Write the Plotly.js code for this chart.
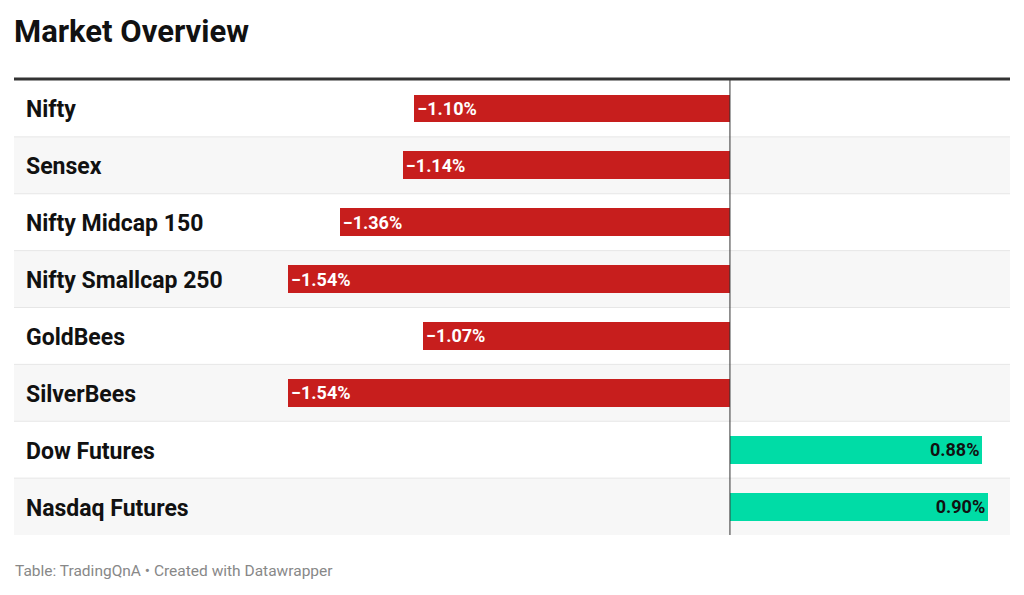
<!DOCTYPE html>
<html>
<head>
<meta charset="utf-8">
<script src="https://cdn.plot.ly/plotly-3.0.1.min.js"></script>
<style>html,body{margin:0;padding:0;background:#fff;}#chart{width:1024px;height:595px;}</style>
</head>
<body>
<div id="chart"></div>
<script>
const categories = ["Nifty","Sensex","Nifty Midcap 150","Nifty Smallcap 250","GoldBees","SilverBees","Dow Futures","Nasdaq Futures"];
const values = [-1.10,-1.14,-1.36,-1.54,-1.07,-1.54,0.88,0.90];
const valueLabels = ["−1.10%","−1.14%","−1.36%","−1.54%","−1.07%","−1.54%","0.88%","0.90%"];

const FONT = "Roboto, 'Noto Sans', sans-serif";
const RED = "#c71e1d", GREEN = "#00dca6";
const idx = categories.map((c,i)=>i);

const shapes = [];
idx.forEach(i=>{
  if (i % 2 === 1) {
    shapes.push({type:"rect", xref:"paper", yref:"y", x0:0, x1:1, y0:i-0.5, y1:i+0.5,
      fillcolor:"#f7f7f7", line:{width:0}, layer:"below"});
  }
  if (i > 0) {
    shapes.push({type:"line", xref:"paper", yref:"y", x0:0, x1:1, y0:i-0.5, y1:i-0.5,
      line:{color:"#e6e6e6", width:1}, layer:"below"});
  }
});
shapes.push({type:"line", xref:"paper", yref:"paper", x0:0, x1:1, y0:1.002, y1:1.002,
  line:{color:"#333333", width:3}});
shapes.push({type:"line", xref:"x", yref:"paper", x0:0, x1:0, y0:0, y1:1,
  line:{color:"#333333", width:1}, layer:"above"});

const annotations = categories.map((c,i)=>({
  xref:"paper", yref:"y", x:0.010, y:i, yshift:-1.5, text:c, showarrow:false, xanchor:"left", yanchor:"middle",
  font:{family:FONT, size:23, color:"#111111", weight:700}
}));
annotations.push({
  xref:"paper", yref:"paper", x:-0.001, y:-0.08, yanchor:"middle", xanchor:"left", showarrow:false,
  text:"Table: TradingQnA • Created with Datawrapper",
  font:{family:FONT, size:15.5, color:"#888888"}
});

const trace = {
  type:"bar", orientation:"h", y:idx, x:values,
  width:0.49,
  marker:{color:values.map(v=>v<0?RED:GREEN), line:{width:0}},
  text:valueLabels, textposition:"inside", insidetextanchor:"end",
  constraintext:"none",
  textfont:{family:FONT, size:18, weight:700, color:values.map(v=>v<0?"#ffffff":"#111111")},
  hoverinfo:"skip", cliponaxis:false
};

const layout = {
  width:1024, height:595,
  margin:{l:14, r:14, t:80, b:60},
  paper_bgcolor:"#ffffff", plot_bgcolor:"rgba(0,0,0,0)",
  showlegend:false,
  title:{text:"Market Overview", x:14/1024, xanchor:"left", xref:"container",
    y:1-31/595, yanchor:"middle", yref:"container",
    font:{family:FONT, size:31, weight:700, color:"#111111"}},
  xaxis:{range:[-2.495,0.976], showgrid:false, zeroline:false, showticklabels:false, ticks:"", fixedrange:true},
  yaxis:{range:[7.5,-0.5], showgrid:false, zeroline:false, showticklabels:false, ticks:"", fixedrange:true},
  shapes:shapes, annotations:annotations,
  bargap:0
};

Plotly.newPlot("chart",[trace],layout,{displayModeBar:false, staticPlot:true});
</script>
</body>
</html>
